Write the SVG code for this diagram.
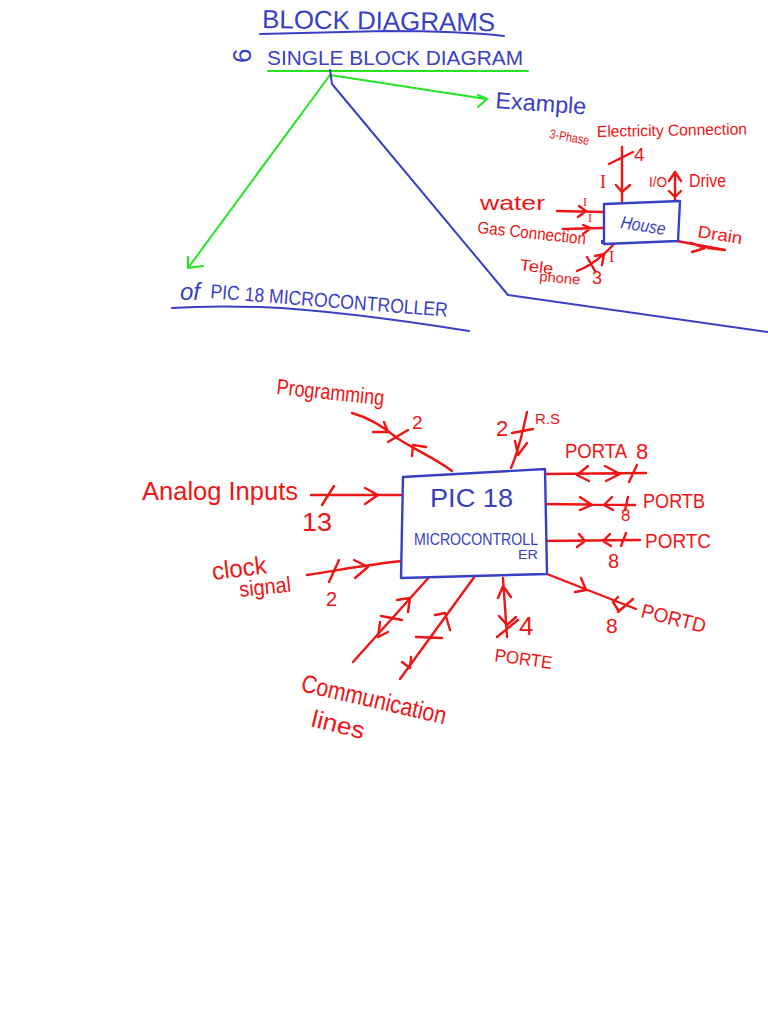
<svg xmlns="http://www.w3.org/2000/svg" width="768" height="1024" viewBox="0 0 768 1024">
<style>
text{font-family:"Liberation Sans","DejaVu Sans",sans-serif;}
.b{fill:#3a40c4;}
.r{fill:#f01414;}
.i{font-family:"Liberation Serif","DejaVu Serif",serif;}
.ln{fill:none;stroke-linecap:round;stroke-linejoin:round;}
.rl{stroke:#f01414;stroke-width:2.4;}
.bl{stroke:#3a40c4;stroke-width:2;}
.gl{stroke:#22e622;stroke-width:2;}
.box{fill:#fff;stroke:#3a40c4;stroke-width:2.4;stroke-linejoin:round;}
</style>
<rect width="768" height="1024" fill="#fff"/>
<g id="title">
<text class="b" x="262" y="28" font-size="26" textLength="233" lengthAdjust="spacingAndGlyphs" transform="rotate(0.8 262 28)">BLOCK DIAGRAMS</text>
<path class="ln bl" d="M260 34C300 33 340 32 385 31C430 31 470 32 504 36"/>
</g>
<g id="heading">
<text class="b" transform="translate(232 63) rotate(-90)" font-size="26" x="0" y="19">6</text>
<text class="b" x="267" y="65" font-size="21" textLength="256" lengthAdjust="spacingAndGlyphs">SINGLE BLOCK DIAGRAM</text>
</g>
<g id="example-label">
<text class="b" x="495" y="108" font-size="23" textLength="91" lengthAdjust="spacingAndGlyphs" transform="rotate(4 495 108)">Example</text>
</g>
<g id="pic-heading">
<text class="b" x="180" y="300" font-size="24" font-style="italic">of</text>
<text class="b" x="210" y="298" font-size="20" textLength="238" lengthAdjust="spacingAndGlyphs" transform="rotate(4.5 210 298)">PIC 18 MICROCONTROLLER</text>
<path class="ln bl" d="M172 308C200 306 225 306 260 307C330 310 400 320 469 331"/>
</g>
<g id="connectors">
<path class="ln gl" d="M268 71H528M330 75L188 268M188 257L188 268L203 266M330 75L486 99M478 95L487 99L478 107"/>
<path class="ln bl" d="M330 70L332 84L508 295L768 332"/>
<path class="ln rl" d="M622 147V201M616 185L622 192L630 185M609 164L633 152"/>
<path class="ln rl" d="M675 201V172M669 181L675 172L681 181M669 191L675 197L681 191"/>
<path class="ln rl" d="M557 211L604 212M579 206L586 211L578 217"/>
<path class="ln rl" d="M563 229L603 228M583 225L591 228L583 234"/>
<path class="ln rl" d="M577 271C590 266 604 255 614 244M595 256L604 254L602 265M587 257L595 271"/>
<path class="ln rl" d="M677 241L725 250M691 243L705 248L692 252M708 248L725 250" />
<path class="ln rl" d="M311 495H401M365 488L378 495L365 504M322 505L334 486"/>
<path class="ln rl" d="M307 575C340 570 370 564 403 561M354 560L368 567L355 578M329 582L339 560"/>
<path class="ln rl" d="M352 413C370 418 385 428 397 438C415 450 435 458 452 471M373 432L388 432L384 422M412 456L413 445L426 447M388 442L408 430"/>
<path class="ln rl" d="M527 412C523 430 519 450 511 468M515 441L518 455L527 443M512 433L533 429"/>
<path class="ln rl" d="M545 474L646 473M588 466L577 475L589 481M605 466L620 474L606 481M629 482L637 465"/>
<path class="ln rl" d="M541 504L635 505M580 497L592 505L580 510M612 497L604 505L613 510M625 510L628 497"/>
<path class="ln rl" d="M541 541L640 540M579 534L585 541L577 547M610 534L603 541L611 546M621 546L626 533"/>
<path class="ln rl" d="M547 574L636 609M581 578L586 590L575 592M618 597L613 602L618 610M618 612L633 599"/>
<path class="ln rl" d="M503 578L507 637M498 598L503 586L511 597M499 616L507 625L516 617M497 637L518 620"/>
<path class="ln rl" d="M431 575L353 662M397 600L410 598L408 612M381 616L402 620M380 622L378 637L388 632"/>
<path class="ln rl" d="M475 576L400 679M435 615L445 613L450 630M416 637L442 638M411 657L410 668L402 662"/>
</g>
<g id="house">
<path class="box" d="M604 204L680 201L678 241L604 244Z"/>
<path d="M601 240h4v4h-4z" fill="#3a40c4"/>
<text class="b" x="620" y="228" font-size="18" font-style="italic" textLength="45" lengthAdjust="spacingAndGlyphs" transform="rotate(9 620 228)">House</text>
</g>
<g id="house-labels">
<text class="r" x="549" y="138" font-size="13" textLength="40" lengthAdjust="spacingAndGlyphs" transform="rotate(10 549 138)">3-Phase</text>
<text class="r" x="597" y="137" font-size="16" textLength="150" lengthAdjust="spacingAndGlyphs" transform="rotate(-1 597 137)">Electricity Connection</text>
<text class="r" x="634" y="161" font-size="19">4</text>
<text class="r i" x="600" y="188" font-size="18">I</text>
<text class="r" x="649" y="187" font-size="15" textLength="18" lengthAdjust="spacingAndGlyphs">I/O</text>
<text class="r" x="689" y="187" font-size="18" textLength="37" lengthAdjust="spacingAndGlyphs">Drive</text>
<text class="r" x="480" y="210" font-size="21" textLength="65" lengthAdjust="spacingAndGlyphs">water</text>
<text class="r i" x="583" y="206" font-size="12">I</text>
<text class="r i" x="588" y="222" font-size="12">I</text>
<text class="r" x="477" y="233" font-size="17" textLength="109" lengthAdjust="spacingAndGlyphs" transform="rotate(6 477 233)">Gas Connection</text>
<text class="r" x="519" y="270" font-size="16" textLength="34" lengthAdjust="spacingAndGlyphs" transform="rotate(7 519 270)">Tele</text>
<text class="r" x="539" y="281" font-size="14" textLength="41" lengthAdjust="spacingAndGlyphs" transform="rotate(5 539 281)">phone</text>
<text class="r" x="592" y="284" font-size="18">3</text>
<text class="r i" x="609" y="262" font-size="16">I</text>
<text class="r" x="697" y="237" font-size="17" textLength="45" lengthAdjust="spacingAndGlyphs" transform="rotate(9 697 237)">Drain</text>
</g>
<g id="pic18">
<path class="box" d="M403 477L545 469L547 574L401 578Z"/>
<text class="b" x="430" y="507" font-size="26" textLength="83" lengthAdjust="spacingAndGlyphs">PIC 18</text>
<text class="b" x="414" y="545" font-size="16" textLength="124" lengthAdjust="spacingAndGlyphs">MICROCONTROLL</text>
<text class="b" x="518" y="559" font-size="12" textLength="20" lengthAdjust="spacingAndGlyphs">ER</text>
</g>
<g id="pic18-labels">
<text class="r" x="276" y="394" font-size="22" textLength="108" lengthAdjust="spacingAndGlyphs" transform="rotate(6 276 394)">Programming</text>
<text class="r" x="412" y="429" font-size="19">2</text>
<text class="r" x="496" y="436" font-size="22">2</text>
<text class="r" x="535" y="424" font-size="14" textLength="25" lengthAdjust="spacingAndGlyphs">R.S</text>
<text class="r" x="142" y="500" font-size="26" textLength="156" lengthAdjust="spacingAndGlyphs">Analog Inputs</text>
<text class="r" x="302" y="531" font-size="25" textLength="30" lengthAdjust="spacingAndGlyphs">13</text>
<text class="r" x="213" y="580" font-size="25" textLength="55" lengthAdjust="spacingAndGlyphs" transform="rotate(-7 213 580)">clock</text>
<text class="r" x="240" y="597" font-size="22" textLength="52" lengthAdjust="spacingAndGlyphs" transform="rotate(-6 240 597)">signal</text>
<text class="r" x="326" y="606" font-size="20">2</text>
<text class="r" x="565" y="458" font-size="20" textLength="62" lengthAdjust="spacingAndGlyphs">PORTA</text>
<text class="r" x="636" y="459" font-size="22">8</text>
<text class="r" x="643" y="508" font-size="20" textLength="62" lengthAdjust="spacingAndGlyphs">PORTB</text>
<text class="r" x="621" y="521" font-size="17">8</text>
<text class="r" x="645" y="548" font-size="20" textLength="66" lengthAdjust="spacingAndGlyphs">PORTC</text>
<text class="r" x="608" y="568" font-size="20">8</text>
<text class="r" x="606" y="633" font-size="21">8</text>
<text class="r" x="640" y="617" font-size="20" textLength="66" lengthAdjust="spacingAndGlyphs" transform="rotate(14 640 617)">PORTD</text>
<text class="r" x="519" y="635" font-size="26">4</text>
<text class="r" x="494" y="661" font-size="18" textLength="58" lengthAdjust="spacingAndGlyphs" transform="rotate(8 494 661)">PORTE</text>
<text class="r" x="300" y="691" font-size="25" textLength="148" lengthAdjust="spacingAndGlyphs" transform="rotate(13 300 691)">Communication</text>
<text class="r" x="310" y="726" font-size="24" textLength="54" lengthAdjust="spacingAndGlyphs" transform="rotate(14 310 726)">lines</text>
</g>
</svg>
